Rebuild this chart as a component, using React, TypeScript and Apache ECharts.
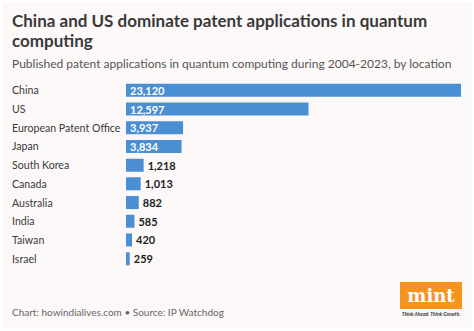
import React, { useEffect, useRef } from "react";
import * as echarts from "echarts";

const categories = ["China", "US", "European Patent Office", "Japan", "South Korea", "Canada", "Australia", "India", "Taiwan", "Israel"];
const values = [23120, 12597, 3937, 3834, 1218, 1013, 882, 585, 420, 259];
const titleLines = ["China and US dominate patent applications in quantum", "computing"];
const subtitle = "Published patent applications in quantum computing during 2004-2023, by location";
const footer = "Chart: howindialives.com \u2022 Source: IP Watchdog";

const FONT = "Lato, 'Noto Sans', sans-serif";

export default function App() {
  const ref = useRef<HTMLDivElement>(null);
  useEffect(() => {
    if (!ref.current) return;
    const chart = echarts.init(ref.current, null, { renderer: "svg" });
    const fmt = (v: number) => v.toLocaleString("en-US");
    chart.setOption({
      animation: false,
      backgroundColor: "#fcf8f8",
      grid: { left: 126, right: 13, top: 81, height: 187, containLabel: false },
      xAxis: { type: "value", min: 0, max: 23120, show: false },
      yAxis: {
        type: "category",
        data: categories,
        inverse: true,
        axisLine: { show: false },
        axisTick: { show: false },
        axisLabel: { align: "left", margin: 114, color: "#3a3a3a", fontSize: 10.6, fontFamily: FONT },
      },
      series: [
        {
          type: "bar",
          barWidth: 13,
          itemStyle: { color: "#4a8fd3" },
          data: values.map((v) => ({
            value: v,
            label: v > 3000
              ? { show: true, position: "insideLeft", offset: [-1, 0], color: "#ffffff", fontWeight: "bold", fontSize: 11, fontFamily: FONT, formatter: () => fmt(v) }
              : { show: true, position: "right", distance: 4, color: "#222222", fontWeight: "bold", fontSize: 11, fontFamily: FONT, formatter: () => fmt(v) },
          })),
        },
      ],
      graphic: [
        { type: "rect", shape: { x: 0, y: 0, width: 474, height: 331 }, style: { fill: "none", stroke: "#ffffff", lineWidth: 5 }, silent: true, z: 100 },
        { type: "text", left: 12, top: 12, style: { text: titleLines[0], fill: "#3a3a3a", font: `bold 17px ${FONT}` } },
        { type: "text", left: 12, top: 32, style: { text: titleLines[1], fill: "#3a3a3a", font: `bold 17px ${FONT}` } },
        { type: "text", left: 12, top: 57, style: { text: subtitle, fill: "#555555", font: `12px ${FONT}` } },
        { type: "text", left: 12, top: 307, style: { text: footer, fill: "#666666", font: `10px ${FONT}` } },
        { type: "rect", shape: { x: 400, y: 282, width: 62, height: 27 }, style: { fill: "#f7941d" } },
        { type: "text", x: 431, y: 295.5, style: { text: "mint", fill: "#ffffff", font: "bold 18px 'DejaVu Serif', serif", align: "center", verticalAlign: "middle" } },
        { type: "text", x: 431, y: 314, style: { text: "Think Ahead. Think Growth.", fill: "#333333", font: `italic bold 5px ${FONT}`, align: "center", verticalAlign: "middle" } },
      ],
    });
    return () => chart.dispose();
  }, []);
  return <div ref={ref} style={{ position: "fixed", left: 0, top: 0, width: 474, height: 331 }} />;
}
